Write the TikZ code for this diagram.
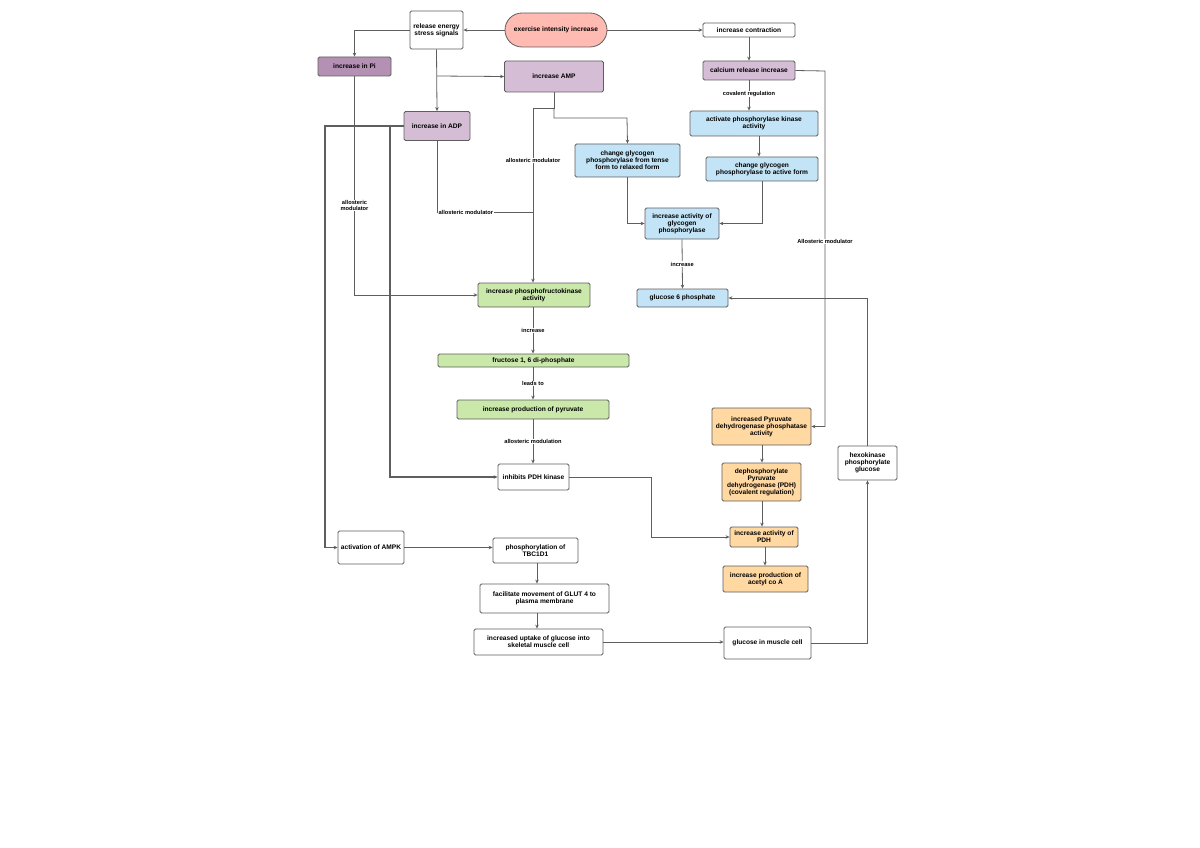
\documentclass[tikz,border=0pt]{standalone}
\usepackage{fontspec}
\setmainfont{Liberation Sans}
\usepackage{xcolor}
\usetikzlibrary{arrows.meta}

\definecolor{salmon}{HTML}{FFBAB2}
\definecolor{lila}{HTML}{D5BED5}
\definecolor{lilaosc}{HTML}{B491B4}
\definecolor{celeste}{HTML}{C3E4F6}
\definecolor{verde}{HTML}{C9E8AA}
\definecolor{naranja}{HTML}{FFD8A2}
\definecolor{linea}{HTML}{5E5E5E}

\tikzset{
    caja/.style={draw=linea, rounded corners=1.5pt, line width=0.8pt, align=center,
        inner sep=1pt, font=\fontsize{6.6}{7.1}\selectfont\bfseries},
    flecha/.style={draw=linea, line width=0.8pt, -{Stealth[length=4pt,width=3.5pt]}},
    union/.style={draw=linea, line width=0.8pt},
    etiq/.style={fill=white, inner sep=0.6pt, align=center, font=\fontsize{5.7}{6.2}\selectfont\bfseries}
}

\begin{document}
\begin{tikzpicture}[x=1pt, y=-1pt]
        \useasboundingbox (0,0) rectangle (1200,848);

            % Cajas superiores
            \node[caja, fill=salmon, rounded corners=17pt, minimum width=102pt, minimum height=34pt] (exer) at (556,30) {exercise intensity increase};
            \node[caja, fill=white, minimum width=53pt, minimum height=38pt] (stress) at (436.5,30) {release energy\\stress signals};
            \node[caja, fill=lilaosc, minimum width=73pt, minimum height=19pt] (pi) at (354.5,66.5) {increase in Pi};
            \node[caja, fill=lila, minimum width=99pt, minimum height=31pt] (amp) at (554,76.5) {increase AMP};
            \node[caja, fill=lila, minimum width=66pt, minimum height=29pt] (adp) at (437,126) {increase in ADP};
            \node[caja, fill=white, minimum width=92pt, minimum height=14pt] (contr) at (749,30) {increase contraction};
            \node[caja, fill=lila, minimum width=92pt, minimum height=19pt] (calc) at (749,70.5) {calcium release increase};

            % Glucogeno fosforilasa
            \node[caja, fill=celeste, minimum width=128pt, minimum height=25pt] (kin) at (754,123.5) {activate phosphorylase kinase\\activity};
            \node[caja, fill=celeste, minimum width=112pt, minimum height=24pt] (active) at (762,169) {change glycogen\\phosphorylase to active form};
            \node[caja, fill=celeste, minimum width=105pt, minimum height=33pt] (tense) at (627.5,160.5) {change glycogen\\phosphorylase from tense\\form to relaxed form};
            \node[caja, fill=celeste, minimum width=74pt, minimum height=31pt] (gpact) at (682,223.5) {increase activity of\\glycogen\\phosphorylase};
            \node[caja, fill=celeste, minimum width=91pt, minimum height=18pt] (g6p) at (682.5,298) {glucose 6 phosphate};

            % Glucolisis
            \node[caja, fill=verde, minimum width=112pt, minimum height=24pt] (pfk) at (534,295) {increase phosphofructokinase\\activity};
            \node[caja, fill=verde, minimum width=191pt, minimum height=13pt] (f16) at (533.5,360.5) {fructose 1, 6 di-phosphate};
            \node[caja, fill=verde, minimum width=152pt, minimum height=19pt] (pyr) at (533,409.5) {increase production of pyruvate};
            \node[caja, fill=white, minimum width=71pt, minimum height=26pt] (pdhk) at (533.5,477) {inhibits PDH kinase};

            % Piruvato deshidrogenasa
            \node[caja, fill=naranja, minimum width=99pt, minimum height=37pt] (pdp) at (761.5,426.5) {increased Pyruvate\\dehydrogenase phosphatase\\activity};
            \node[caja, fill=naranja, minimum width=79pt, minimum height=38pt] (deph) at (761.5,482) {dephosphorylate\\Pyruvate\\dehydrogenase (PDH)\\(covalent regulation)};
            \node[caja, fill=naranja, minimum width=68pt, minimum height=20pt] (pdh) at (764,537) {increase activity of\\PDH};
            \node[caja, fill=naranja, minimum width=85pt, minimum height=26pt] (acet) at (765.5,579) {increase production of\\acetyl co A};
            \node[caja, fill=white, minimum width=59pt, minimum height=34pt] (hexo) at (867.5,463) {hexokinase\\phosphorylate\\glucose};

            % AMPK y GLUT 4
            \node[caja, fill=white, minimum width=66pt, minimum height=33pt] (ampk) at (371,547.5) {activation of AMPK};
            \node[caja, fill=white, minimum width=85pt, minimum height=25pt] (tbc) at (535.5,550.5) {phosphorylation of\\TBC1D1};
            \node[caja, fill=white, minimum width=129pt, minimum height=29pt] (glut) at (544.5,598.5) {facilitate movement of GLUT 4 to\\plasma membrane};
            \node[caja, fill=white, minimum width=129pt, minimum height=26pt] (uptake) at (538.5,642) {increased uptake of glucose into\\skeletal muscle cell};
            \node[caja, fill=white, minimum width=87pt, minimum height=32pt] (gmc) at (767.5,643) {glucose in muscle cell};

            % Puntos de union
            \coordinate (ampbr) at (554,108);
            \coordinate (stressbr) at (437,76);

            % Conexiones superiores
            \draw[flecha] (exer.west) -- (stress.east);
            \draw[flecha] (exer.east) -- (contr.west);
            \draw[flecha] (stress.west) -| (pi.north);
            \draw[flecha] (stress.south) -- (adp.north);
            \draw[flecha] (stressbr) -- (amp.west);
            \draw[flecha] (contr.south) -- (calc.north);
            \draw[flecha] (calc.south) -- (kin.north -| calc.south)
                node[etiq, pos=0.45] {covalent regulation};
            \draw[flecha] (kin.south -| 759,0) -- (active.north -| 759,0);

            % Moduladores alostericos
            \draw[flecha] (amp.south) -- (ampbr) -| (pfk.north -| 533,0)
                node[etiq, pos=0.65] {allosteric modulator};
            \draw[flecha] (ampbr) |- (627,118) -- (tense.north);
            \draw[union] (adp.south) -- (437,212) -- (533,212)
                node[etiq, pos=0.3] {allosteric modulator};
            \draw[flecha] (pi.south) |- (pfk.west)
                node[etiq, pos=0.295] {allosteric\\modulator};
            \draw[flecha, line width=1.3pt] (adp.west) -- (325,126) |- (ampk.west);
            \draw[flecha, line width=1.1pt] (390,126) |- (pdhk.west);
            \draw[flecha] (calc.east) -- (825,71) |- (pdp.east)
                node[etiq, pos=0.24] {Allosteric modulator};

            % Glucogeno
            \draw[flecha] (tense.south) |- (gpact.west);
            \draw[flecha] (active.south) |- (gpact.east);
            \draw[flecha] (gpact.south) -- (g6p.north) node[etiq, midway] {increase};
            \draw[flecha] (hexo.north) |- (g6p.east);
            \draw[flecha] (gmc.east) -| (hexo.south);

            % Cadena de la glucolisis
            \foreach \a/\b/\t in {pfk/f16/increase, f16/pyr/leads to, pyr/pdhk/allosteric modulation}
                \draw[flecha] (\a.south -| 533,0) -- (\b.north -| 533,0) node[etiq, midway] {\t};
            \draw[flecha] (pdhk.east) -- (651,477) |- (pdh.west);

            % Cadena PDH
            \foreach \a/\b/\x in {pdp/deph/762, deph/pdh/762, pdh/acet/765}
                \draw[flecha] (\a.south -| \x,0) -- (\b.north -| \x,0);

            % Cadena AMPK
            \draw[flecha] (ampk.east) -- (ampk.east -| tbc.west);
            \foreach \a/\b in {tbc/glut, glut/uptake}
                \draw[flecha] (\a.south -| 537,0) -- (\b.north -| 537,0);
            \draw[flecha] (uptake.east) -- (uptake.east -| gmc.west);

    \end{tikzpicture}
\end{document}
